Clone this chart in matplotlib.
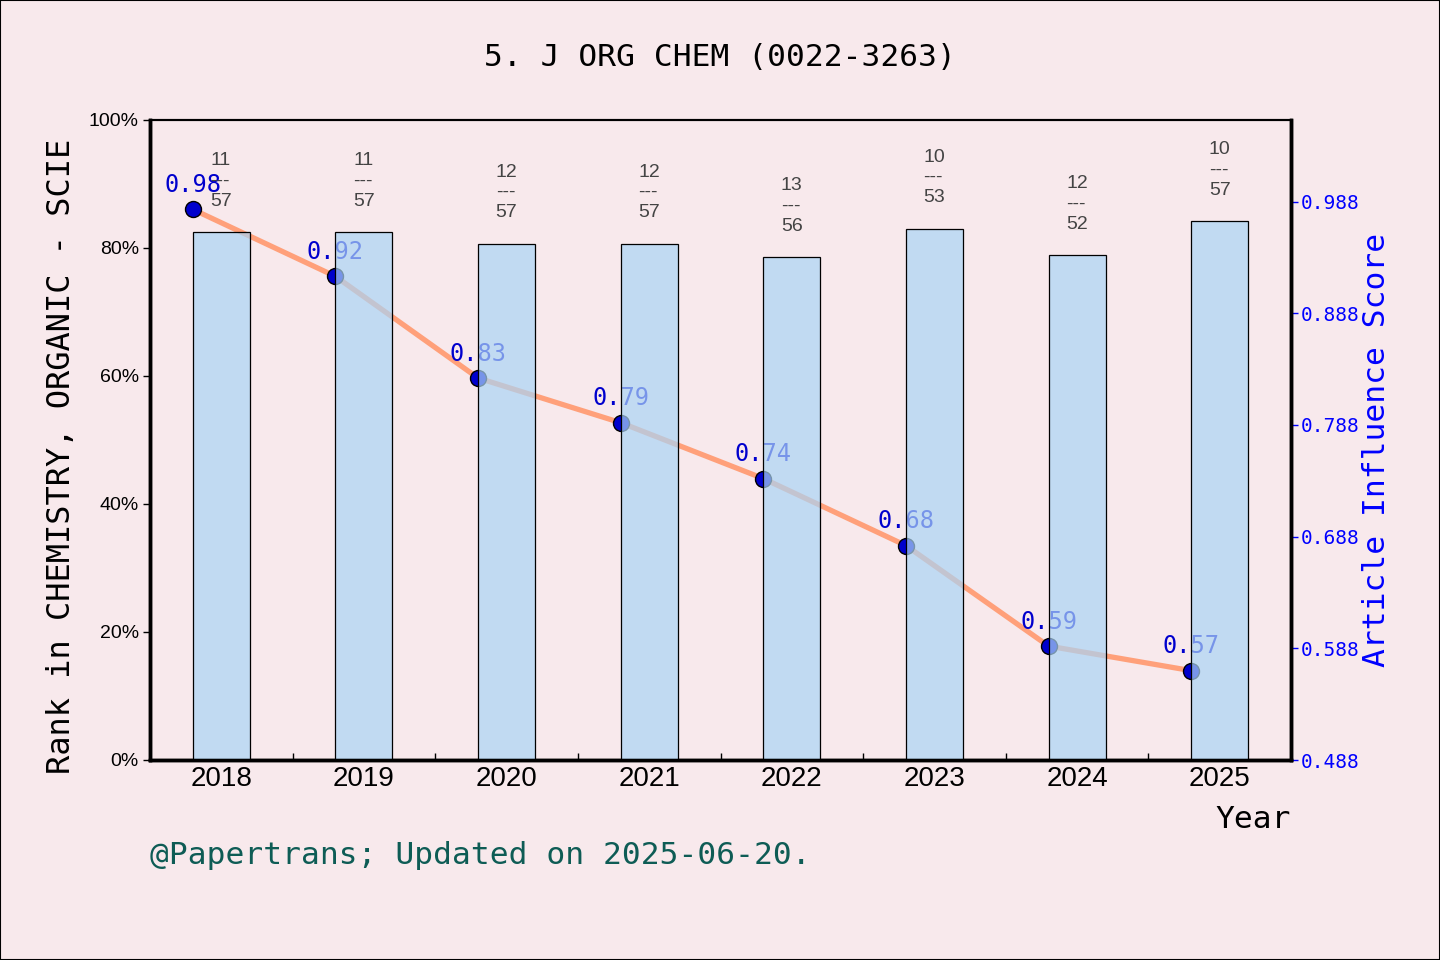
import numpy as np
import matplotlib
matplotlib.use('Agg')
import matplotlib.pyplot as plt
from matplotlib.patches import Rectangle
from matplotlib.ticker import PercentFormatter

################### data ##################
years = ['2018', '2019', '2020', '2021', '2022', '2023', '2024', '2025']
ranks = [11, 11, 12, 12, 13, 10, 12, 10]
totals = [57, 57, 57, 57, 56, 53, 52, 57]
ais = [0.981, 0.921, 0.830, 0.790, 0.740, 0.680, 0.590, 0.568]

mono = 'DejaVu Sans Mono'
sans = 'Liberation Sans'

x = np.arange(len(years))
pct = [(t - r + 1) / t for r, t in zip(ranks, totals)]

fig = plt.figure(figsize=(14.4, 9.6), dpi=100, facecolor='#f8e9ec')
fig.patches.append(Rectangle((0, 0), 1, 1, transform=fig.transFigure,
                             fill=False, edgecolor='black', linewidth=1.5))
ax = fig.add_axes([150/1440, 1-760/960, 1141/1440, 640/960])
ax2 = ax.twinx()
ax.set_zorder(ax2.get_zorder() + 1)
ax.patch.set_visible(False)
ax2.patch.set_facecolor('white')

################### line of article influence score ##################
ax2.plot(x - 0.2, ais, color='#ffa07a', linewidth=3.8, zorder=2)
ax2.plot(x - 0.2, ais, 'o', markersize=11.5, markerfacecolor='#0000cd',
         markeredgecolor='black', markeredgewidth=1, zorder=3)
for xi, v in zip(x, ais):
    ax2.annotate('%.2f' % v, (xi - 0.2, v), xytext=(0, 9), textcoords='offset points',
                 ha='center', va='bottom', color='#0000cd', fontsize=17, family=mono)
lo, hi = min(ais) - 0.08, max(ais) + 0.08
ax2.set_ylim(lo, hi)
ax2.set_yticks(np.arange(lo, hi, 0.1))
ax2.set_yticklabels(['%.3f' % t for t in np.arange(lo, hi, 0.1)])
ax2.tick_params(axis='y', colors='blue', direction='out', length=5, width=1,
                labelsize=14, labelfontfamily=mono, pad=2)
ax2.set_ylabel('Article Influence Score', color='blue', fontsize=22.5, family=mono)
ax2.yaxis.set_label_coords(1.062, 0.484)

################### bars of rank percentile ##################
ax.bar(x, pct, width=0.4, color=(170/255, 212/255, 245/255, 0.7),
       edgecolor='black', linewidth=0.9)
for xi, p, r, t in zip(x, pct, ranks, totals):
    ax.text(xi, p + 0.035, '%d\n---\n%d' % (r, t), ha='center', va='bottom',
            multialignment='left', color='#444444', fontsize=14, family=sans,
            linespacing=1.25)
ax.set_xlim(-0.5, 7.5)
ax.set_ylim(0, 1)
ax.set_yticks(np.arange(0, 1.01, 0.2))
ax.yaxis.set_major_formatter(PercentFormatter(1.0, decimals=0))
ax.tick_params(axis='y', direction='out', length=5, width=1, labelsize=14,
               labelfontfamily=sans, pad=3)
ax.set_xticks(x)
ax.set_xticklabels(years, fontsize=20, family=sans)
ax.set_xticks(x[:-1] + 0.5, minor=True)
ax.tick_params(axis='x', which='major', length=0, pad=4)
ax.tick_params(axis='x', which='minor', direction='in', length=5, width=1)
ax.set_ylabel('Rank in CHEMISTRY, ORGANIC - SCIE', fontsize=23, family=mono)
ax.yaxis.set_label_coords(-0.064, 0.475)
ax.set_xlabel('Year', fontsize=22.5, family=mono, loc='right', labelpad=10)

for a in (ax, ax2):
    for s in ('left', 'bottom', 'right'):
        a.spines[s].set_linewidth(2.5)
    a.spines['top'].set_linewidth(1.5)

fig.text(0.5, 1-57/960, '5. J ORG CHEM (0022-3263)', ha='center', va='center',
         fontsize=22.5, family=mono)
fig.text(150/1440, 1-855/960, '@Papertrans; Updated on 2025-06-20.', ha='left',
         va='center', fontsize=22.5, family=mono, color='#0e5c55')

fig.savefig('out.png', dpi=100, facecolor=fig.get_facecolor())
